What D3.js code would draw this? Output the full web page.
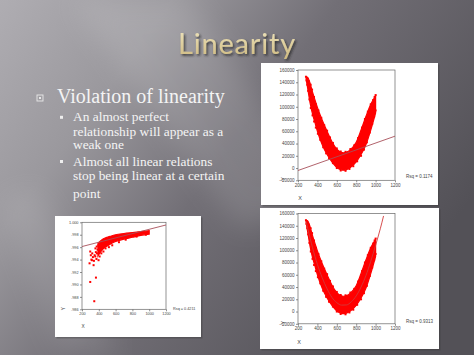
<!doctype html>
<html>
<head>
<meta charset="utf-8">
<script src="https://d3js.org/d3.v7.min.js"></script>
<style>
  body { margin: 0; background: #6a686e; }
  svg { display: block; }
</style>
</head>
<body>
<svg id="svg" width="474" height="355"></svg>
<script>
// ---- slide text ----
const title = "Linearity";
const bullet = "Violation of linearity";
const subBullets = [
  ["An almost perfect", "relationship will appear as a", "weak one"],
  ["Almost all linear relations", "stop being linear at a certain", "point"]
];
const subBaselines = [[121.3, 135.5, 149.3], [165.5, 180.3, 197.5]];

// ---- right charts: the same U-shaped cloud, linear fit vs quadratic fit ----
const xTicks = [200, 400, 600, 800, 1000, 1200];
const yTicks = [-20000, 0, 20000, 40000, 60000, 80000, 100000, 120000, 140000, 160000];

const bandX     = [284, 300, 325, 350, 375, 400, 450, 500, 550, 600, 640, 670, 700, 740, 800, 850, 900, 950, 1000];
const bandUpper = [149000, 148000, 138000, 124000, 111000, 99000, 78000, 60000, 43000, 31000, 26000, 25000, 26000, 30000, 42000, 62000, 84000, 104000, 118000];
const bandLower = [145000, 130000, 106000, 88000, 74000, 60000, 38000, 22000, 10000, 1000, -2500, -3500, -2500, 1000, 10000, 22000, 38000, 62000, 90000];

const edgePoints = [
  [288,143000],[296,136000],[305,126000],[318,112000],[332,98000],[350,86000],[366,76000],[384,66000],
  [405,56000],[430,46000],[460,34000],[490,24000],[520,16000],[560,8000],[600,0],[640,-4000],[690,-4500],
  [730,-1500],[770,3000],[810,11000],[850,20000],[880,30000],[910,42000],[940,58000],[965,72000],[985,84000],[1000,94000],
  [282,149000],[292,147000],[310,142000],[330,136000],[345,128000],[365,116000],[385,104000],[410,94000],
  [440,82000],[470,70000],[500,61000],[530,50000],[560,41000],[600,32000],[640,27000],[690,26500],[740,31000],
  [780,37000],[820,49000],[860,66000],[890,80000],[920,92000],[950,104000],[975,111000],[990,116000],[1000,119000]
];

const linFitX = [200, 1200];
const linFitY = [-4000, 52000];
const quadFitX = [284, 300, 350, 400, 450, 500, 550, 600, 650, 700, 750, 800, 850, 900, 950, 1000, 1050, 1082];
const quadFitY = [147000, 136000, 104000, 77000, 55000, 37000, 23000, 14500, 10500, 10800, 16000, 25500, 40000, 58500, 82000, 108000, 136000, 156000];
const rsqLabels = ["Rsq = 0.1174", "Rsq = 0.9313", "Rsq = 0.4211"];

// ---- small chart: saturating cloud ----
const sYTicks = [0.986, 0.988, 0.990, 0.992, 0.994, 0.996, 0.998, 1.000];
const sBandX     = [390, 420, 450, 500, 550, 600, 700, 800, 900, 1000];
const sBandUpper = [0.9966, 0.9970, 0.9973, 0.9976, 0.9978, 0.9980, 0.9982, 0.99835, 0.9985, 0.99865];
const sBandLower = [0.9946, 0.9952, 0.9957, 0.9962, 0.9966, 0.9969, 0.9973, 0.9976, 0.9979, 0.9981];
const sPoints = [
  [290,0.9934],[298,0.9953],[305,0.9947],[312,0.9940],[318,0.9939],[322,0.9950],[330,0.9944],[338,0.9931],
  [342,0.9938],[350,0.9947],[358,0.9945],[365,0.9952],[372,0.9941],[378,0.9950],[385,0.9956],[397,0.9939],
  [360,0.9958],[375,0.9961],[395,0.9963],[298,0.9904],[366,0.9911],[346,0.9873],[410,0.9945],[430,0.9950],
  [455,0.9953],[480,0.9958],[520,0.9960],[560,0.9963],[640,0.9968],[720,0.9972],[850,0.9977],[960,0.9980]
];
const sLinFitX = [200, 1200];
const sLinFitY = [0.9961, 0.99957];

const svg = d3.select("#svg");
const defs = svg.append("defs");

// background
const bg = defs.append("linearGradient").attr("id", "bg")
  .attr("x1", 0).attr("y1", 0).attr("x2", 1).attr("y2", 0.55);
[[0, "#afadb2"], [0.28, "#9a989d"], [0.55, "#726f76"], [1, "#535157"]]
  .forEach(s => bg.append("stop").attr("offset", s[0]).attr("stop-color", s[1]));
svg.append("rect").attr("width", 474).attr("height", 355).attr("fill", "url(#bg)");

defs.append("filter").attr("id", "blur").append("feGaussianBlur").attr("stdDeviation", 14);
svg.append("path").attr("d", "M70,0 L190,0 L330,200 L240,230 Z")
  .attr("fill", "#fff").attr("opacity", 0.12).attr("filter", "url(#blur)");
svg.append("path").attr("d", "M0,200 L40,190 L120,355 L60,355 Z")
  .attr("fill", "#fff").attr("opacity", 0.1).attr("filter", "url(#blur)");

// title (gold, with a soft drop shadow)
const tg = defs.append("linearGradient").attr("id", "gold").attr("x1", 0).attr("y1", 0).attr("x2", 0).attr("y2", 1);
tg.append("stop").attr("offset", 0).attr("stop-color", "#f2e9c4");
tg.append("stop").attr("offset", 1).attr("stop-color", "#cdb87e");
defs.append("filter").attr("id", "tshadow")
  .attr("x", "-10%").attr("y", "-20%").attr("width", "130%").attr("height", "150%")
  .append("feDropShadow").attr("dx", 1.5).attr("dy", 1.8).attr("stdDeviation", 1.2)
  .attr("flood-color", "#222").attr("flood-opacity", 0.75);
svg.append("text").attr("x", 237).attr("y", 54).attr("text-anchor", "middle")
  .attr("font-family", "Lato").attr("font-size", 29).attr("letter-spacing", 0.8)
  .attr("fill", "url(#gold)").attr("filter", "url(#tshadow)").text(title);

// bullets
const txtColor = "#f4f4f4";
svg.append("rect").attr("x", 37).attr("y", 95).attr("width", 6).attr("height", 6)
  .attr("fill", "none").attr("stroke", "#e8e8e8").attr("stroke-width", 0.9);
svg.append("rect").attr("x", 39).attr("y", 97).attr("width", 2).attr("height", 2).attr("fill", "#e8e8e8");
svg.append("text").attr("x", 57).attr("y", 103).attr("font-family", "Liberation Serif")
  .attr("font-size", 20).attr("fill", txtColor).text(bullet);

subBullets.forEach((lines, i) => {
  svg.append("rect").attr("x", 60).attr("y", subBaselines[i][0] - 5.5).attr("width", 3).attr("height", 3).attr("fill", "#eee");
  lines.forEach((l, j) => {
    svg.append("text").attr("x", 73).attr("y", subBaselines[i][j])
      .attr("font-family", "Liberation Serif").attr("font-size", 13.4)
      .attr("fill", txtColor).text(l);
  });
});

// chart panel helper
function chartPanel(o) {
  const g = svg.append("g");
  g.append("rect").attr("x", o.box[0] + 1.5).attr("y", o.box[1] + 1.5).attr("width", o.box[2]).attr("height", o.box[3])
    .attr("fill", "#333").attr("opacity", 0.35);
  g.append("rect").attr("x", o.box[0]).attr("y", o.box[1]).attr("width", o.box[2]).attr("height", o.box[3])
    .attr("fill", "#fff");

  const x = d3.scaleLinear().domain([200, 1200]).range([o.plot[0], o.plot[2]]);
  const y = d3.scaleLinear().domain(o.yDomain).range([o.plot[3], o.plot[1]]);

  const xa = g.append("g").attr("transform", `translate(0,${o.plot[3]})`)
    .call(d3.axisBottom(x).tickValues(xTicks).tickSize(2).tickPadding(1.5).tickFormat(d3.format("d")));
  const ya = g.append("g").attr("transform", `translate(${o.plot[0]},0)`)
    .call(d3.axisLeft(y).tickValues(o.yTicks).tickSize(2).tickPadding(1.5).tickFormat(o.yFormat));
  [xa, ya].forEach(a => {
    a.select(".domain").remove();
    a.attr("font-family", "Liberation Sans").attr("font-size", o.fs).attr("color", "#444");
    a.selectAll("line").attr("stroke-width", 0.6);
  });

  g.append("rect").attr("x", o.plot[0]).attr("y", o.plot[1])
    .attr("width", o.plot[2] - o.plot[0]).attr("height", o.plot[3] - o.plot[1])
    .attr("fill", "none").attr("stroke", "#666").attr("stroke-width", 0.7);

  g.append("text").attr("x", o.xLab[0]).attr("y", o.xLab[1]).attr("font-family", "Liberation Sans")
    .attr("font-size", o.fs + 1).attr("fill", "#444").attr("text-anchor", "middle").text("X");
  g.append("text").attr("transform", `translate(${o.yLab[0]},${o.yLab[1]}) rotate(-90)`)
    .attr("font-family", "Liberation Sans").attr("font-size", o.fs + 1).attr("fill", "#444")
    .attr("text-anchor", "middle").attr("dy", "0.35em").text("Y");
  g.append("text").attr("x", o.rsq[0]).attr("y", o.rsq[1]).attr("dy", "0.35em").attr("font-family", "Liberation Sans")
    .attr("font-size", o.fs).attr("fill", "#444").text(o.rsqText);
  return { g, x, y };
}

function drawCloud(p, bx, bu, bl, pts) {
  const area = d3.area().x(d => p.x(d[0])).y0(d => p.y(d[1])).y1(d => p.y(d[2])).curve(d3.curveMonotoneX);
  p.g.append("path").datum(bx.map((v, i) => [v, bl[i], bu[i]]))
    .attr("d", area).attr("fill", "#ff0000").attr("stroke", "#ff0000").attr("stroke-width", 1.2);
  p.g.selectAll(".pt").data(pts).join("rect").attr("class", "pt")
    .attr("x", d => p.x(d[0]) - 1).attr("y", d => p.y(d[1]) - 1)
    .attr("width", 2).attr("height", 2).attr("fill", "#ff0000");
}

function drawLine(p, xs, ys, color, curve) {
  p.g.append("path").datum(xs.map((v, i) => [v, ys[i]]))
    .attr("d", d3.line().x(d => p.x(d[0])).y(d => p.y(d[1])).curve(curve || d3.curveLinear))
    .attr("fill", "none").attr("stroke", color).attr("stroke-width", 0.9);
}

const bigFmt = d3.format("d");

// top right: linear fit
const p1 = chartPanel({
  box: [261, 63, 177, 142], plot: [298, 70, 395, 180.3],
  yDomain: [-20000, 160000], yTicks: yTicks, yFormat: bigFmt, fs: 4.5,
  xLab: [300, 200], yLab: [283, 179], rsq: [406, 176], rsqText: rsqLabels[0]
});
drawCloud(p1, bandX, bandUpper, bandLower, edgePoints);
drawLine(p1, linFitX, linFitY, "#a8505a");

// bottom right: quadratic fit
const p2 = chartPanel({
  box: [260, 208, 179, 141], plot: [298, 213.5, 395, 323.8],
  yDomain: [-20000, 160000], yTicks: yTicks, yFormat: bigFmt, fs: 4.5,
  xLab: [299, 344], yLab: [283, 322.7], rsq: [406, 321], rsqText: rsqLabels[1]
});
drawCloud(p2, bandX, bandUpper, bandLower, edgePoints);
drawLine(p2, quadFitX, quadFitY, "#d23a3a", d3.curveMonotoneX);

// bottom left: small saturating chart
const p3 = chartPanel({
  box: [55, 216, 146, 121], plot: [82, 222.3, 166, 309.3],
  yDomain: [0.986, 1.000], yTicks: sYTicks,
  yFormat: d => d === 1 ? "1.000" : d3.format(".3f")(d).replace(/^0/, ""), fs: 3.8,
  xLab: [83, 328], yLab: [63, 308.7], rsq: [173, 309], rsqText: rsqLabels[2]
});
drawCloud(p3, sBandX, sBandUpper, sBandLower, sPoints);
drawLine(p3, sLinFitX, sLinFitY, "#a8505a");
</script>
</body>
</html>
